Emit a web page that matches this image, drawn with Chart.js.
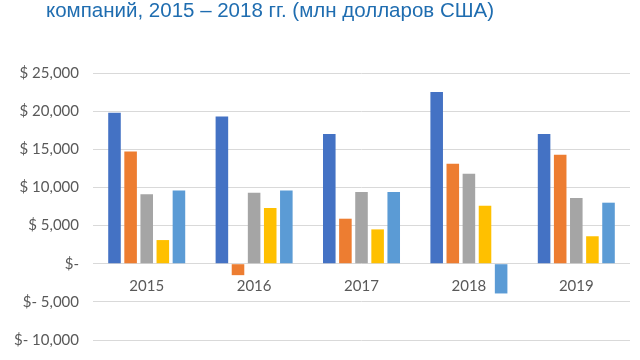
<!DOCTYPE html>
<html>
<head>
<meta charset="utf-8">
<script src="https://cdn.jsdelivr.net/npm/chart.js@4.4.0/dist/chart.umd.min.js"></script>
<style>
  html, body { margin: 0; padding: 0; background: #fff; }
  #wrap { position: relative; width: 640px; height: 360px; }
  #title {
    position: absolute; left: 0; top: -2px; width: 540px; text-align: center;
    font-family: "Liberation Sans", Arial, sans-serif; font-size: 20.5px;
    color: #1f6db0; white-space: nowrap;
  }
</style>
</head>
<body>
<div id="wrap">
  <canvas id="c" width="640" height="360"></canvas>
  <div id="title">компаний, 2015 – 2018 гг. (млн долларов США)</div>
</div>
<script>
// ---------------- Daten ----------------
const years = ["2015", "2016", "2017", "2018", "2019"];
const series1 = [19800, 19300, 17000, 22500, 17000];
const series2 = [14700, -1500, 5900, 13100, 14300];
const series3 = [9100, 9300, 9400, 11800, 8600];
const series4 = [3100, 7300, 4500, 7600, 3600];
const series5 = [9600, 9600, 9400, -3900, 8000];

const colors = ["#4472c4", "#ed7d31", "#a5a5a5", "#ffc000", "#5b9bd5"];

function money(v) {
  if (v === 0) return "$-";
  const s = Math.abs(v).toLocaleString("en-US");
  return v < 0 ? "$- " + s : "$ " + s;
}

const sets = [series1, series2, series3, series4, series5].map((d, i) => ({
  label: "Ряд " + (i + 1),
  data: d,
  backgroundColor: colors[i],
  barPercentage: 0.78,
  categoryPercentage: 0.75
}));

new Chart(document.getElementById("c"), {
  type: "bar",
  data: { labels: years, datasets: sets },
  options: {
    responsive: false,
    animation: false,
    layout: { padding: { top: 73, bottom: 20, left: 0, right: 10 } },
    plugins: { legend: { display: false }, tooltip: { enabled: false } },
    scales: {
      x: {
        position: { y: 0 },
        grid: { display: false },
        border: { display: false },
        ticks: { color: "#595959", font: { family: "Lato", size: 15 }, padding: 5 }
      },
      y: {
        min: -10000,
        max: 25000,
        afterFit: s => { s.paddingBottom = 0; },
        ticks: {
          stepSize: 5000,
          color: "#595959",
          font: { family: "Lato", size: 15 },
          padding: 14,
          callback: v => money(v)
        },
        grid: { color: "#d9d9d9", lineWidth: 1, drawTicks: false },
        border: { display: false }
      }
    }
  }
});
</script>
</body>
</html>
